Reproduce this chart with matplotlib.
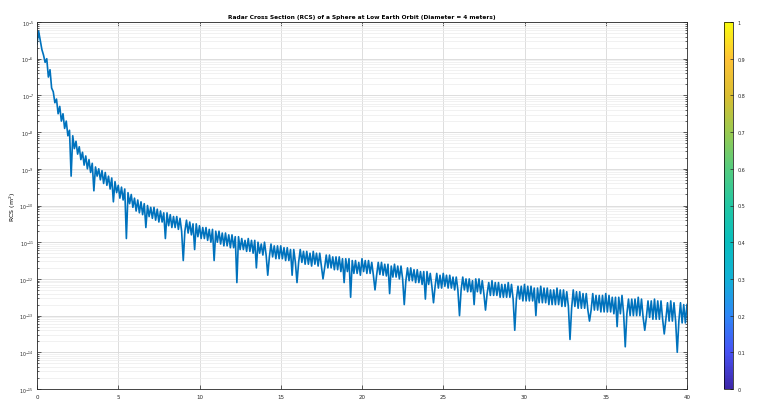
import numpy as np
import matplotlib
matplotlib.use("Agg")
import matplotlib.pyplot as plt
from matplotlib.colors import LinearSegmentedColormap
from matplotlib.ticker import LogLocator, NullFormatter, FixedLocator

# ---- data: log10 of RCS (m^2), sampled every 0.1 along x from 0 to 40 ----
rcs_log10 = [
    -5.6, -5.25, -5.5, -5.75, -5.9, -6.1, -6.0, -6.5, -6.3, -6.8,
    -6.9, -7.2, -7.1, -7.5, -7.3, -7.7, -7.5, -7.9, -7.7, -8.1,
    -7.95, -9.2, -8.1, -8.45, -8.25, -8.6, -8.4, -8.75, -8.55, -8.9,
    -8.65, -9.0, -8.75, -9.1, -8.85, -9.6, -8.95, -9.2, -9.0, -9.3,
    -9.05, -9.4, -9.1, -9.45, -9.2, -9.55, -9.25, -9.9, -9.35, -9.65,
    -9.45, -9.8, -9.5, -9.85, -9.55, -10.9, -9.65, -9.95, -9.7, -10.05,
    -9.8, -10.15, -9.85, -10.2, -9.9, -10.25, -9.95, -10.6, -10.0, -10.3,
    -10.05, -10.35, -10.05, -10.4, -10.1, -10.45, -10.15, -10.45, -10.2, -10.9,
    -10.2, -10.55, -10.25, -10.6, -10.3, -10.6, -10.3, -10.65, -10.35, -10.7,
    -11.5, -10.7, -10.4, -10.75, -10.45, -10.8, -10.5, -11.2, -10.5, -10.85,
    -10.55, -10.9, -10.6, -10.9, -10.6, -10.95, -10.65, -11.0, -10.65, -11.5,
    -10.7, -11.0, -10.7, -11.05, -10.75, -11.1, -10.75, -11.1, -10.8, -11.15,
    -10.8, -11.15, -10.85, -12.1, -10.85, -11.2, -10.9, -11.2, -10.95, -11.25,
    -10.9, -11.25, -10.95, -11.3, -10.95, -11.7, -11.0, -11.3, -11.05, -11.35,
    -11.0, -11.35, -11.9, -11.4, -11.05, -11.4, -11.1, -11.45, -11.1, -11.45,
    -11.1, -11.45, -11.15, -11.5, -11.15, -11.5, -11.2, -11.9, -11.2, -11.55,
    -12.1, -11.55, -11.2, -11.55, -11.25, -11.6, -11.25, -11.6, -11.3, -11.65,
    -11.25, -11.6, -11.3, -11.65, -11.3, -11.65, -12.0, -11.7, -11.35, -11.7,
    -11.35, -11.7, -11.4, -11.75, -11.4, -11.75, -11.4, -11.8, -11.45, -12.1,
    -11.45, -11.8, -11.45, -12.5, -11.5, -11.85, -11.5, -11.85, -11.55, -11.9,
    -11.45, -11.8, -11.5, -11.85, -11.5, -11.85, -11.55, -11.9, -12.3, -11.9,
    -11.55, -11.88, -11.55, -11.9, -11.6, -11.92, -11.6, -12.4, -11.65, -11.95,
    -11.6, -11.95, -11.65, -12.0, -11.65, -12.0, -12.7, -12.05, -11.7, -12.05,
    -11.7, -12.05, -11.75, -12.1, -11.75, -12.1, -11.8, -12.15, -11.8, -12.55,
    -11.8, -12.15, -11.85, -12.2, -12.65, -12.2, -11.85, -12.25, -11.9, -12.25,
    -11.85, -12.2, -11.9, -12.25, -11.9, -12.25, -11.95, -12.3, -11.95, -12.3,
    -13.0, -12.3, -11.95, -12.3, -12.0, -12.35, -12.0, -12.35, -12.05, -12.7,
    -12.0, -12.35, -12.0, -12.4, -12.05, -12.4, -12.85, -12.4, -12.1, -12.45,
    -12.05, -12.45, -12.1, -12.45, -12.1, -12.5, -12.15, -12.5, -12.15, -12.5,
    -12.1, -12.5, -12.15, -12.55, -13.4, -12.55, -12.2, -12.55, -12.2, -12.6,
    -12.15, -12.6, -12.2, -12.6, -12.2, -12.6, -12.25, -13.0, -12.25, -12.65,
    -12.2, -12.65, -12.25, -12.65, -12.25, -12.7, -12.3, -12.7, -12.3, -12.7,
    -12.25, -12.7, -12.3, -12.75, -12.3, -12.75, -12.35, -12.75, -13.65, -12.8,
    -12.3, -12.75, -12.35, -12.8, -12.35, -12.8, -12.4, -12.8, -12.4, -12.85,
    -13.15, -12.85, -12.4, -12.85, -12.45, -12.85, -12.45, -12.9, -12.45, -12.9,
    -12.4, -12.9, -12.45, -12.9, -12.5, -12.95, -12.5, -13.3, -12.5, -12.95,
    -12.45, -12.95, -13.85, -12.95, -12.55, -13.0, -12.55, -13.0, -12.55, -13.0,
    -12.5, -13.0, -12.55, -13.05, -13.4, -13.05, -12.6, -13.05, -12.6, -13.1,
    -12.55, -13.1, -12.6, -13.1, -12.6, -13.1, -13.5, -13.1, -12.65, -13.15,
    -12.6, -13.15, -12.65, -13.15, -14.0, -13.15, -12.65, -13.2, -12.7, -13.2,
    -12.7,
]
x_start, x_end = 0.0, 40.0
x_ticks = [0, 5, 10, 15, 20, 25, 30, 35, 40]
y_exponents = list(range(-15, -4))
cbar_ticks = [0, 0.1, 0.2, 0.3, 0.4, 0.5, 0.6, 0.7, 0.8, 0.9, 1.0]
cbar_labels = ["0", "0.1", "0.2", "0.3", "0.4", "0.5", "0.6", "0.7", "0.8", "0.9", "1"]
title = "Radar Cross Section (RCS) of a Sphere at Low Earth Orbit (Diameter = 4 meters)"
ylabel = "RCS (m$^2$)"

x = np.linspace(x_start, x_end, len(rcs_log10))
rcs = 10.0 ** np.array(rcs_log10)

parula = LinearSegmentedColormap.from_list("parula", [
    (0.0, (0.2422, 0.1504, 0.6603)),
    (0.1, (0.2810, 0.3228, 0.9579)),
    (0.2, (0.1786, 0.5289, 0.9689)),
    (0.3, (0.0689, 0.6948, 0.8394)),
    (0.4, (0.0323, 0.7467, 0.7456)),
    (0.5, (0.1358, 0.7819, 0.6417)),
    (0.6, (0.3304, 0.8014, 0.4974)),
    (0.7, (0.6000, 0.7932, 0.3172)),
    (0.8, (0.8529, 0.7440, 0.1917)),
    (0.9, (0.9952, 0.7614, 0.2096)),
    (1.0, (0.9763, 0.9831, 0.0538)),
])

W, H = 764, 402
fig = plt.figure(figsize=(W / 100, H / 100), dpi=100)
ax = fig.add_axes([37 / W, 12 / H, 650 / W, 367 / H])
ax.plot(x, rcs, color="#0072BD", lw=1.2)
ax.set_yscale("log")
ax.set_xlim(x_start, x_end)
ax.set_ylim(10.0 ** y_exponents[0], 10.0 ** y_exponents[-1])
ax.set_xticks(x_ticks)
ax.set_xticklabels([str(t) for t in x_ticks])
ax.yaxis.set_major_locator(FixedLocator([10.0 ** e for e in y_exponents]))
ax.set_yticklabels(["$10^{%d}$" % e for e in y_exponents])
ax.yaxis.set_minor_locator(LogLocator(base=10, subs=np.arange(2, 10), numticks=100))
ax.yaxis.set_minor_formatter(NullFormatter())
ax.grid(True, which="major", color="#d8d8d8", lw=0.6)
ax.grid(True, which="minor", axis="y", color="#ececec", lw=0.5)
ax.tick_params(which="both", direction="in", top=True, right=True,
               labelsize=4, colors="#262626", length=3, width=0.5)
ax.tick_params(axis="y", labelsize=3.4, pad=2)
ax.tick_params(which="minor", length=1.6)
for s in ax.spines.values():
    s.set_color("#262626")
    s.set_linewidth(0.6)
ax.set_title(title, fontsize=4.2, fontweight="bold", pad=3)
ax.set_ylabel(ylabel, fontsize=4.5, labelpad=1)

cax = fig.add_axes([724 / W, 12 / H, 9 / W, 367 / H])
sm = plt.cm.ScalarMappable(cmap=parula, norm=plt.Normalize(0, 1))
cb = fig.colorbar(sm, cax=cax, ticks=cbar_ticks)
cb.ax.set_yticklabels(cbar_labels)
cb.ax.tick_params(labelsize=3.5, direction="in", length=2, width=0.5, colors="#262626")
cb.outline.set_linewidth(0.5)

fig.savefig("out.png", dpi=100)
